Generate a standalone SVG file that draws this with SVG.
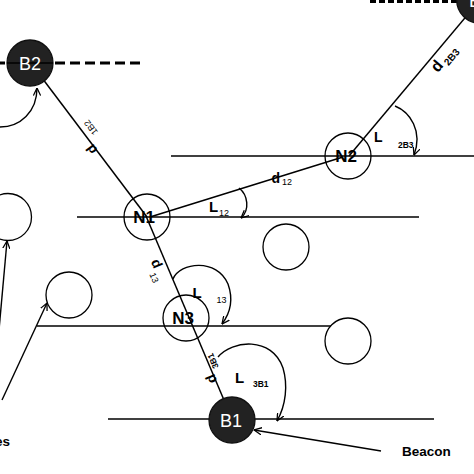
<svg xmlns="http://www.w3.org/2000/svg" width="474" height="474" viewBox="0 0 474 474">
<style>
.bg{fill:#fff}
.ln{stroke:#000;stroke-width:1.5;fill:none}
.arc{stroke:#000;stroke-width:1.4;fill:none;marker-end:url(#arr)}
.node{fill:#fff;stroke:#000;stroke-width:1.3}
.beacon{fill:#222;stroke:#111;stroke-width:1.3}
.dash{stroke:#000;stroke-width:3;fill:none}
text{font-family:"Liberation Sans",Arial,sans-serif;fill:#000}
.nl{font-size:17px;font-weight:bold;text-anchor:middle}
.bl{font-size:18px;text-anchor:middle;fill:#fff}
.big{font-size:15px;font-weight:bold}
.sub{font-size:9px}
.subb{font-size:8.5px;font-weight:bold}
.rc{text-anchor:middle;dominant-baseline:central}
</style>
<defs>
<marker id="arr" viewBox="0 0 10 10" refX="9.5" refY="5" markerWidth="8" markerHeight="8" orient="auto" markerUnits="userSpaceOnUse">
<path d="M0,0.5 L9.5,5 L0,9.5" fill="none" stroke="#000" stroke-width="1.6"/>
</marker>
</defs>
<rect class="bg" x="0" y="0" width="474" height="474"/>

<g id="connectors">
<line class="ln" x1="171" y1="156" x2="474" y2="156"/>
<line class="ln" x1="77" y1="217" x2="419" y2="217"/>
<line class="ln" x1="37" y1="326" x2="331" y2="326"/>
<line class="ln" x1="108" y1="419" x2="434" y2="419"/>
<line class="dash" x1="-5" y1="63" x2="140" y2="63" stroke-dasharray="10 5"/>
<line class="dash" x1="370" y1="1.5" x2="457" y2="1.5" stroke-dasharray="6 3"/>
<line class="ln" x1="33" y1="66" x2="147" y2="217"/>
<line class="ln" x1="150" y1="217" x2="343" y2="157"/>
<line class="ln" x1="349" y1="156" x2="480" y2="0"/>
<line class="ln" x1="146" y1="216" x2="232" y2="419"/>
<path class="arc" d="M0,127 C20,127 37,112 37,88"/>
<path class="arc" d="M239,188 C248,195 250,210 241,218"/>
<path class="arc" d="M395,106 C410,112 423,131 414,155"/>
<path class="arc" d="M173,279 C180,262 217,258 228,284 C233,298 231,312 222,324"/>
<path class="arc" d="M218,357 C232,340 272,336 283,368 C288,385 286,405 277,421"/>
<line class="arc" x1="-1" y1="330" x2="7" y2="241"/>
<line class="arc" x1="2" y1="400" x2="47" y2="303"/>
<line class="arc" x1="381" y1="451" x2="254" y2="430"/>
</g>

<g id="c-left"><circle class="node" cx="8" cy="217" r="23.5"/></g>
<g id="c-mid"><circle class="node" cx="286" cy="247" r="23"/></g>
<g id="c-lower-left"><circle class="node" cx="69" cy="295" r="23"/></g>
<g id="c-right"><circle class="node" cx="348" cy="341" r="23"/></g>

<g id="N1"><circle class="node" cx="147" cy="217" r="23" fill="none" style="fill:none"/><text class="nl" x="144" y="223">N1</text></g>
<g id="N2"><circle class="node" cx="348" cy="156" r="23" style="fill:none"/><text class="nl" x="346" y="162">N2</text></g>
<g id="N3"><circle class="node" cx="186" cy="318" r="23" style="fill:none"/><text class="nl" x="183" y="324">N3</text></g>
<g id="B1"><circle class="beacon" cx="232" cy="420" r="23"/><text class="bl" x="231" y="426.5">B1</text></g>
<g id="B2"><circle class="beacon" cx="30" cy="63" r="23"/><line class="dash" x1="7" y1="63" x2="53" y2="63" stroke="#000" stroke-width="2" style="stroke-width:1.5"/><text class="bl" x="30" y="69.5">B2</text></g>
<g id="B3"><circle class="beacon" cx="480" cy="0" r="23.3"/><text class="bl" x="480" y="6.5">B3</text></g>

<g id="labels">
<text class="big" x="209" y="211.7">L</text><text class="sub" x="219" y="215.5">12</text>
<text class="big" x="271.5" y="183" style="font-size:14px">d</text><text class="sub" x="282" y="185">12</text>
<text class="big" x="374" y="142" style="font-size:14px">L</text><text class="subb" x="398" y="147.5">2B3</text>
<text class="big" x="192.5" y="298">L</text><text class="sub" x="216.5" y="302.5">13</text>
<text class="big" x="235" y="383">L</text><text class="subb" x="253" y="387">3B1</text>
<text class="big rc" transform="translate(91.5,149.5) rotate(233)" style="font-size:14px">d</text>
<text class="sub rc" transform="translate(91,127.5) rotate(233)">1B2</text>
<text class="big rc" transform="translate(157,263.5) rotate(67)" style="font-size:14px">d</text>
<text class="sub rc" transform="translate(154,277.7) rotate(67)">13</text>
<text class="big rc" transform="translate(211,379) rotate(247)" style="font-size:14px">d</text>
<text class="subb rc" transform="translate(213,361) rotate(247)">3B1</text>
<text class="big rc" transform="translate(436.7,66) rotate(-50)" style="font-size:16px">d</text>
<text class="subb rc" transform="translate(451.7,57) rotate(-50)" style="font-size:10px">2B3</text>
<text class="big" x="402" y="455.7" style="font-size:13.5px">Beacon</text>
<text class="big" x="-5" y="445.7" style="font-size:13.5px">es</text>
</g>
</svg>
